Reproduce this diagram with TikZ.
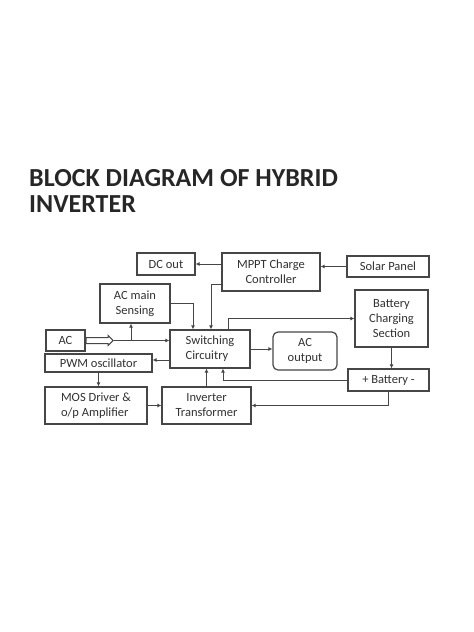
\documentclass[tikz,border=0pt]{standalone}
\usepackage{fontspec}
\setmainfont{Carlito}
\usepackage{tikz}
\usetikzlibrary{positioning,arrows.meta,shapes.arrows,calc}
\definecolor{lineclr}{RGB}{70,70,70}
\definecolor{txtclr}{RGB}{50,50,50}
\tikzset{
  blk/.style={rectangle,draw=lineclr,line width=1.2pt,fill=white,
              inner sep=1pt,align=center,text=txtclr,
              font=\fontsize{12.5}{15}\selectfont},
  rblk/.style={blk,rounded corners=5pt},
  edge/.style={-{Latex[length=4pt,width=4pt]},draw=lineclr,line width=1pt},
}

\begin{document}
\begin{tikzpicture}[x=1pt,y=-1pt]
\useasboundingbox (0,0) rectangle (474,632);
% title
\node[anchor=north west, inner sep=0pt, align=left,
      font=\fontsize{26}{26}\bfseries\selectfont, text=black!85] (title)
      at (29,169) {BLOCK DIAGRAM OF HYBRID\\INVERTER};
% blocks
\node[blk, minimum width=58pt, minimum height=22pt] (dcout) at (166,264) {DC out};
\node[blk, minimum width=98pt, minimum height=38pt] (mppt) at (271,272)
      {MPPT Charge\\Controller};
\node[blk, minimum width=82pt, minimum height=21pt] (solar) at (388,266.5)
      {Solar Panel};
\node[blk, minimum width=70pt, minimum height=39pt] (sensing) at (135,303.5)
      {AC main\\Sensing};
\node[blk, minimum width=73pt, minimum height=57pt] (charging) at (391.5,318.5)
      {Battery\\Charging\\Section};
\node[blk, minimum width=39pt, minimum height=21pt] (ac) at (65.5,340.5) {AC};
\node[single arrow, draw=lineclr, line width=1pt, inner sep=2.5pt,
      minimum height=27pt, single arrow head extend=2pt,
      right=0pt of ac] (acarrow) {};
\node[blk, align=left, minimum width=80pt, minimum height=38pt] (switching)
      at (210,349) {Switching\\Circuitry};
\node[rblk, minimum width=64pt, minimum height=38pt] (acout) at (305,351)
      {AC\\output};
\node[blk, minimum width=107pt, minimum height=18pt] (pwm) at (98.5,363)
      {PWM oscillator};
\node[blk, minimum width=81pt, minimum height=22pt] (battery) at (388.5,380)
      {+ Battery -};
\node[blk, align=left, minimum width=102pt, minimum height=37pt] (mos)
      at (96,405.5) {MOS Driver \&\\o/p Amplifier};
\node[blk, minimum width=89pt, minimum height=37pt] (inverter) at (206.5,405.5)
      {Inverter\\Transformer};
\coordinate (jn) at (131,340.5);
% connectors
\draw[edge] (dcout.east -| mppt.west) -- (dcout.east);
\draw[edge] (solar.west) -- (solar.west -| mppt.east);
\draw[edge] ([yshift=-12pt]mppt.west) -| ([xshift=1pt]switching.north);
\draw[edge] (sensing.east) -| ([xshift=-17pt]switching.north);
\draw[edge] (acarrow.east) -- (acarrow.east -| switching.west);
\draw[edge] (jn) -- (jn |- sensing.south);
\draw[edge] ([yshift=-11pt]switching.west) -- ([yshift=-11pt]switching.west -| pwm.east);
\draw[edge] (pwm.south) -- (pwm.south |- mos.north);
\draw[edge] (mos.east) -- (inverter.west);
\draw[edge] (inverter.north) -- (inverter.north |- switching.south);
\draw[edge] (battery.west) -| ([xshift=13pt]switching.south);
\draw[edge] (battery.south) |- (inverter.east);
\draw[edge] ([xshift=18pt]switching.north) |- (charging.west);
\draw[edge] (switching.east) -- (switching.east -| acout.west);
\draw[edge] (charging.south) -- (charging.south |- battery.north);
\end{tikzpicture}
\end{document}
